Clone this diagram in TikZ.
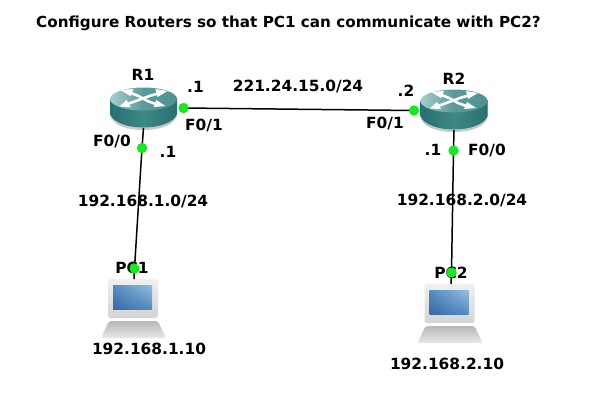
\documentclass[tikz,border=0pt]{standalone}
\usepackage{fontspec}
\usetikzlibrary{shadings}
\setmainfont{DejaVu Sans}
\definecolor{portg}{RGB}{20,235,30}
\definecolor{tealbody}{RGB}{62,136,136}
\definecolor{tealdark}{RGB}{40,112,112}
\definecolor{teallight}{RGB}{165,205,205}
\definecolor{tealtop}{RGB}{78,145,145}
\definecolor{scrA}{RGB}{55,105,165}
\definecolor{scrB}{RGB}{150,190,220}
\definecolor{scrC}{RGB}{85,140,195}
\begin{document}
\begin{tikzpicture}[x=1pt,y=-1pt,
  lbl/.style={font=\fontsize{15.4}{17}\selectfont\bfseries,text=black,inner sep=0pt,anchor=center},
  ttl/.style={font=\fontsize{15.2}{17}\selectfont\bfseries,text=black,inner sep=0pt,anchor=center},
  port/.style={circle,fill=portg,draw=none,minimum size=10pt,inner sep=0pt},
  wire/.style={draw=black,line width=1.5pt},
  hub/.style={inner sep=0pt,minimum size=1pt},
  router/.pic={
    \fill[black!22] (-33.5,-11) -- (-33.5,7) .. controls (-30,17) and (-15,21) .. (0,21) .. controls (15,21) and (30,17) .. (33.5,7) -- (33.5,-11) -- cycle;
    \shade[left color=tealdark,right color=tealdark,middle color=tealbody] (-33.5,-11) -- (-33.5,5) .. controls (-30,14) and (-15,18.5) .. (0,18.5) .. controls (15,18.5) and (30,14) .. (33.5,5) -- (33.5,-11) -- cycle;
    \shade[left color=teallight,right color=tealtop,middle color=tealtop!85!teallight] (0,-10) ellipse[x radius=33.5,y radius=11.5];
    \draw[white,line width=2.6pt] (-15,-17) -- (-5,-13) -- (4,-8) -- (15,-4);
    \draw[white,line width=2.6pt] (-16,-5) -- (-5,-9) -- (6,-13) -- (16,-16);
    \fill[white] (-24,-2.5) -- (-17,-9) -- (-13,-2) -- cycle;
    \fill[white] (-23,-19) -- (-10,-20) -- (-13,-13) -- cycle;
    \fill[white] (24,-18) -- (12,-20) -- (14,-12) -- cycle;
    \fill[white] (22,-3) -- (13,-9) -- (10,-2) -- cycle;
  },
  laptop/.pic={
    \shade[top color=black!6,bottom color=black!17,rounded corners=2.5pt] (-25,-19) rectangle (25,20);
    \shade[lower left=scrA,upper left=scrC,upper right=scrB,lower right=scrC] (-20,-13) rectangle (19,11);
    \shade[top color=black!28,bottom color=black!9,rounded corners=2pt] (-24,23) -- (25,23) -- (33,40) -- (-32,40) -- cycle;
  }]
\useasboundingbox (0,0) rectangle (593,407);
\fill[white] (0,0) rectangle (593,407);
\node[ttl] (title) at (288.5,23) {Configure Routers so that PC1 can communicate with PC2?};
\node[hub] (r1) at (143.5,109) {}; \node[hub] (r2) at (454,111) {};
\node[hub] (pc1) at (133,298) {}; \node[hub] (pc2) at (449.5,303) {};
\pic at (r1) {router};
\pic at (r2) {router};
\pic at (pc1) {laptop};
\pic at (pc2) {laptop};
\node[lbl] (nr1) at (143,75) {R1};
\node[lbl] (nr2) at (454,79) {R2};
\node[lbl] (n1) at (195.5,87) {.1};
\node[lbl] (n2) at (298,86) {221.24.15.0/24};
\node[lbl] (n3) at (406,91) {.2};
\node[lbl] (n4) at (204,125) {F0/1};
\node[lbl] (n5) at (385,123) {F0/1};
\node[lbl] (n6) at (112,141) {F0/0};
\node[lbl] (n7) at (168,152) {.1};
\node[lbl] (n8) at (433,150) {.1};
\node[lbl] (n9) at (487,150) {F0/0};
\node[lbl] (n10) at (143,201) {192.168.1.0/24};
\node[lbl] (n11) at (462,200) {192.168.2.0/24};
\node[lbl] (npc1) at (132,268) {PC1};
\node[lbl] (npc2) at (451,273) {PC2};
\node[lbl] (n12) at (149,349) {192.168.1.10};
\node[lbl] (n13) at (447,364) {192.168.2.10};
\node[port] (d1) at (183.5,108) {};
\node[port] (d2) at (414,110.5) {};
\node[port] (d3) at (142,148) {};
\node[port] (d4) at (134.5,268.5) {};
\node[port] (d5) at (453.5,150.5) {};
\node[port] (d6) at (451.5,272.5) {};
\coordinate (e3) at (143.5,128);
\coordinate (e4) at (134,279);
\coordinate (e5) at (454,130);
\coordinate (e6) at (451,284);
\draw[wire] (d1.center) -- (d2.center);
\draw[wire] (e3) -- (d3.center) -- (d4.center) -- (e4);
\draw[wire] (e5) -- (d5.center) -- (d6.center) -- (e6);
\node[port] at (d1) {};
\node[port] at (d2) {};
\node[port] at (d3) {};
\node[port] at (d4) {};
\node[port] at (d5) {};
\node[port] at (d6) {};
\end{tikzpicture}
\end{document}
